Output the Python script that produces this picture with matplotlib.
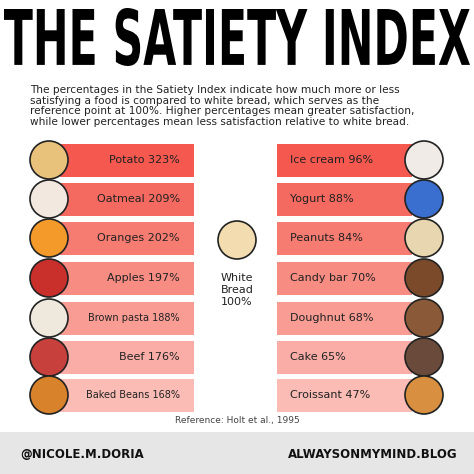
import matplotlib.pyplot as plt
from matplotlib.patches import Circle, Rectangle, PathPatch
from matplotlib.textpath import TextPath
from matplotlib.font_manager import FontProperties
from matplotlib.transforms import Affine2D

left_foods = ["Potato", "Oatmeal", "Oranges", "Apples", "Brown pasta", "Beef", "Baked Beans"]
left_values = [323, 209, 202, 197, 188, 176, 168]
right_foods = ["Ice cream", "Yogurt", "Peanuts", "Candy bar", "Doughnut", "Cake", "Croissant"]
right_values = [96, 88, 84, 70, 68, 65, 47]
row_colors = ["#f4584f", "#f56a60", "#f67b71", "#f78c83", "#f89c94", "#f9ada6", "#fabcb5"]
circle_colors = ["#e8c27a", "#f2e8e0", "#f39a2a", "#c9302c", "#efe8dc", "#c8403c", "#d8822c"]
circle_colors_r = ["#f0ebe6", "#3a6fd0", "#e8d6b0", "#7a4a2a", "#8a5a38", "#6a4a3a", "#d89040"]

fig = plt.figure(figsize=(4.74, 4.74), dpi=100)
ax = fig.add_axes([0, 0, 1, 1])
ax.set_xlim(0, 474)
ax.set_ylim(474, 0)
ax.axis("off")

# condensed title: stretch a text path to fill the top band
tp = TextPath((0, 0), "THE SATIETY INDEX", size=10, prop=FontProperties(family="DejaVu Sans", weight="bold"))
ext = tp.get_extents()
sx = 466 / ext.width
sy = 58 / ext.height
tr = Affine2D().translate(-ext.x0, -ext.y0).scale(sx, -sy).translate(4, 66)
ax.add_patch(PathPatch(tr.transform_path(tp), facecolor="black", edgecolor="none"))

desc = ("The percentages in the Satiety Index indicate how much more or less\n"
        "satisfying a food is compared to white bread, which serves as the\n"
        "reference point at 100%. Higher percentages mean greater satisfaction,\n"
        "while lower percentages mean less satisfaction relative to white bread.")
ax.text(30, 106, desc, ha="left", va="center", fontsize=7.6, color="#222222",
        linespacing=1.1)

ys = [160, 199, 238, 278, 318, 357, 395]
h = 33
ax.barh(ys, [134] * 7, left=60, height=h, color=row_colors)
ax.barh(ys, [135] * 7, left=277, height=h, color=row_colors)

for i, y in enumerate(ys):
    fs = 8 if len(left_foods[i]) < 10 else 7
    ax.text(180, y, f"{left_foods[i]} {left_values[i]}%", ha="right", va="center",
            fontsize=fs, color="#222222")
    ax.text(290, y, f"{right_foods[i]} {right_values[i]}%", ha="left", va="center",
            fontsize=8, color="#222222")
    ax.add_patch(Circle((49, y), 19, facecolor=circle_colors[i], edgecolor="#222222", lw=1.2))
    ax.add_patch(Circle((424, y), 19, facecolor=circle_colors_r[i], edgecolor="#222222", lw=1.2))

ax.add_patch(Circle((237, 240), 19, facecolor="#f2dcb0", edgecolor="#222222", lw=1.2))
ax.text(237, 290, "White\nBread\n100%", ha="center", va="center", fontsize=8,
        color="#222222", linespacing=1.3)

ax.text(237, 421, "Reference: Holt et al., 1995", ha="center", va="center",
        fontsize=6.5, color="#444444")

ax.add_patch(Rectangle((0, 432), 474, 42, facecolor="#e6e6e6", edgecolor="none"))
ax.text(20, 454, "@NICOLE.M.DORIA", ha="left", va="center", fontsize=8.5,
        fontweight="bold", color="#111111")
ax.text(458, 454, "ALWAYSONMYMIND.BLOG", ha="right", va="center", fontsize=8.5,
        fontweight="bold", color="#111111")

fig.savefig("out.png", dpi=100)
